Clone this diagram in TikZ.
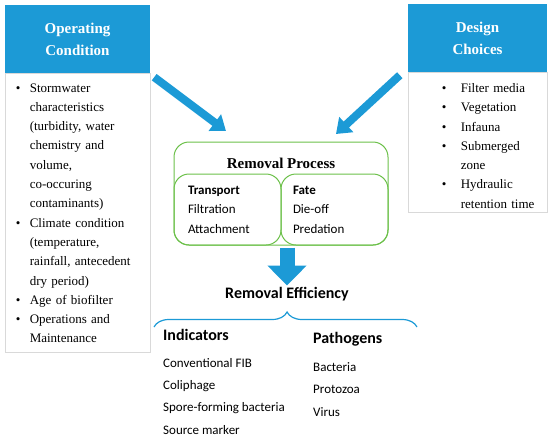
\documentclass[tikz,border=0pt]{standalone}
\usepackage{fontspec}
\setmainfont{Liberation Serif}
\newfontfamily\calibri{Carlito}
\usetikzlibrary{positioning, arrows.meta, decorations.pathreplacing}
\definecolor{headblue}{HTML}{1C9AD6}
\definecolor{procgreen}{HTML}{6CC04A}
\newcommand\bul[1]{\noindent\hangindent=#1\hangafter=1\hbox to #1{\textbullet\hss}}

\begin{document}
\begin{tikzpicture}[x = 1pt, y = -1pt,
    head/.style = {fill = headblue, text = white, align = center, inner sep = 0pt,
        font = \fontsize{15}{22}\selectfont\bfseries},
    listbox/.style = {draw = black!15, line width = 0.8pt, fill = white, inner sep = 0pt},
    listtext/.style = {font = \fontsize{13}{19.3}\selectfont, align = left, inner sep = 0pt, anchor = north west},
    procbox/.style = {draw = procgreen, line width = 1pt, rounded corners = 15pt, inner sep = 0pt},
    subtext/.style = {font = \calibri\fontsize{13}{19.5}\selectfont, align = left},
    sanshead/.style = {font = \calibri\fontsize{16}{19}\selectfont\bfseries, inner sep = 0pt},
    sanslist/.style = {font = \calibri\fontsize{13}{22.3}\selectfont, align = left, inner sep = 0pt, anchor = north west},
    slimarrow/.style = {draw = headblue, line width = 8pt, -{Triangle[width = 20pt, length = 14pt]}},
    bigarrow/.style = {draw = headblue, line width = 15pt, -{Triangle[width = 38pt, length = 20pt]}}]
    \useasboundingbox (0,0) rectangle (550,440);

    \node[head, minimum width = 145pt, minimum height = 68pt] (opHead) at (77.5,39) {Operating\\Condition};
    \node[listbox, minimum width = 145pt, minimum height = 279pt, below = 0pt of opHead] (opList) {};
    \node[listtext, text width = 130pt] (opItems) at ([shift = {(11,10)}]opList.north west)
        {\bul{14pt}Stormwater\newline characteristics\newline (turbidity, water\newline chemistry and\newline volume,\newline co-occuring\newline contaminants)\par
         \bul{14pt}Climate condition\newline (temperature,\newline rainfall, antecedent\newline dry period)\par
         \bul{14pt}Age of biofilter\par
         \bul{14pt}Operations and\newline Maintenance\par};

    \node[head, minimum width = 139pt, minimum height = 68pt] (dcHead) at (477.5,38) {Design\\Choices};
    \node[listbox, minimum width = 139pt, minimum height = 140pt, below = 0pt of dcHead] (dcList) {};
    \node[listtext, text width = 100pt] (dcItems) at ([shift = {(34,11)}]dcList.north west)
        {\bul{19pt}Filter media\par
         \bul{19pt}Vegetation\par
         \bul{19pt}Infauna\par
         \bul{19pt}Submerged\newline zone\par
         \bul{19pt}Hydraulic\newline retention time\par};

    \node[procbox, minimum width = 214pt, minimum height = 103pt] (proc) at (281,193.5) {};
    \node[font = \fontsize{15}{18}\selectfont\bfseries] (procTitle) at (281,163) {Removal Process};
    \node[procbox, subtext, minimum width = 107pt, minimum height = 71pt, text width = 79pt,
        inner xsep = 14pt, anchor = south west] (transport) at (proc.south west)
        {\textbf{Transport}\\Filtration\\Attachment};
    \node[procbox, subtext, minimum width = 107pt, minimum height = 71pt, text width = 83pt,
        inner xsep = 12pt, anchor = south east] (fate) at (proc.south east)
        {\textbf{Fate}\\Die-off\\Predation};

    \coordinate (opTip) at (226,131);
    \coordinate (dcTip) at (336,134);
    \draw[slimarrow] ([shift = {(4,4)}]opHead.south east) -- (opTip);
    \draw[slimarrow] ([shift = {(-8,3)}]dcHead.south west) -- (dcTip);

    \node[sanshead, anchor = base] (eff) at (287,298) {Removal Efficiency};
    \coordinate (effTop) at (proc.south -| eff.north);
    \draw[bigarrow] ([yshift = -2pt]effTop) -- ([yshift = 1pt]eff.north);

    \coordinate (brL) at (154,327);
    \coordinate (brR) at (417,327);
    \draw[draw = headblue, line width = 1.2pt, decorate,
        decoration = {brace, amplitude = 15pt, aspect = 0.506}] (brL) -- (brR);

    \node[sanshead, anchor = base west] (indHead) at (163,340) {Indicators};
    \node[sanslist] (indList) at (163,358) {Conventional FIB\\Coliphage\\Spore-forming bacteria\\Source marker};
    \node[sanshead, anchor = base west] (pathHead) at (313,343) {Pathogens};
    \node[sanslist] (pathList) at (313,362.5) {Bacteria\\Protozoa\\Virus};
\end{tikzpicture}
\end{document}
